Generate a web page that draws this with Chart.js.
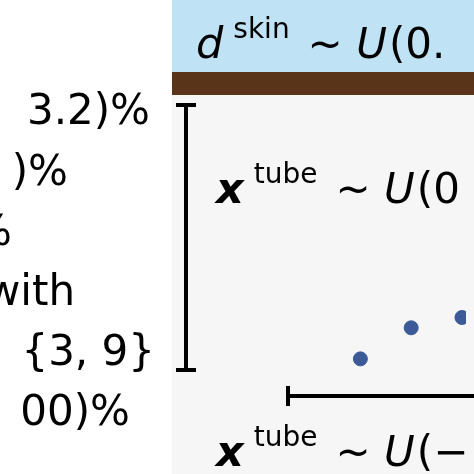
<!DOCTYPE html>
<html><head><style>html,body{margin:0;padding:0;background:#fff}#w{width:474px;height:474px}</style>
<script src="https://cdn.jsdelivr.net/npm/chart.js@4/dist/chart.umd.min.js"></script></head>
<body><div id="w"><canvas id="c" width="474" height="474"></canvas></div>
<script>
const pointX = [1.0, 2.0, 3.0];
const pointY = [0.3, 0.9, 1.1];
const leftLines = ["3.2)%", ")%", "%", "with", "{3, 9}", "00)%"];
const F = "DejaVu Sans";
const deco = {
  id: 'deco',
  beforeDatasetsDraw(ch) {
    const c = ch.ctx;
    c.save();
    c.fillStyle = '#f6f6f6'; c.fillRect(172, 0, 302, 474);
    c.fillStyle = '#bfe3f4'; c.fillRect(172, 0, 302, 72);
    c.fillStyle = '#5a3418'; c.fillRect(172, 72, 302, 23);
    c.strokeStyle = '#000'; c.lineWidth = 4;
    c.beginPath(); c.moveTo(186, 105); c.lineTo(186, 370);
    c.moveTo(176, 105); c.lineTo(196, 105); c.moveTo(176, 370); c.lineTo(196, 370);
    c.moveTo(288, 396); c.lineTo(474, 396); c.moveTo(288, 386); c.lineTo(288, 406); c.stroke();
    c.fillStyle = '#000'; c.textBaseline = 'alphabetic';
    c.font = '42px "' + F + '"';
    const ys = [124, 185, 245, 305, 365, 425];
    const ends = [150, 68, 12, 75, 155, 130];
    leftLines.forEach((t, i) => { c.textAlign = 'right'; c.fillText(t, ends[i], ys[i]); });
    c.textAlign = 'left';
    function formula(x, y, base, bold, sup, rest) {
      c.font = (bold ? 'bold italic ' : 'italic ') + '43px "' + F + '"';
      c.fillText(base, x, y); x += c.measureText(base).width + 10;
      c.font = '28px "' + F + '"'; c.fillText(sup, x, y - 20); x += c.measureText(sup).width + 18;
      c.font = '42px "' + F + '"'; c.fillText('~ ', x, y); x += c.measureText('~ ').width;
      c.font = 'italic 42px "' + F + '"'; c.fillText('U', x, y); x += c.measureText('U').width + 2;
      c.font = '42px "' + F + '"'; c.fillText(rest, x, y);
    }
    formula(196, 58, 'd', false, 'skin', '(0.');
    formula(216, 203, 'x', true, 'tube', '(0');
    formula(216, 466, 'x', true, 'tube', '(\u2212');
    c.restore();
  }
};
new Chart(document.getElementById('c'), {
  type: 'scatter',
  data: { datasets: [{ data: pointX.map((x, i) => ({x, y: pointY[i]})), backgroundColor: '#3d5a98', borderColor: '#3d5a98', pointRadius: 7 }] },
  options: {
    responsive: false, animation: false, events: [],
    layout: { padding: 0 },
    plugins: { legend: { display: false }, tooltip: { enabled: false } },
    scales: {
      x: { display: false, min: -5.94, max: 3.08 },
      y: { display: false, min: -1.77, max: 7.08 }
    }
  },
  plugins: [deco]
});
</script></body></html>
